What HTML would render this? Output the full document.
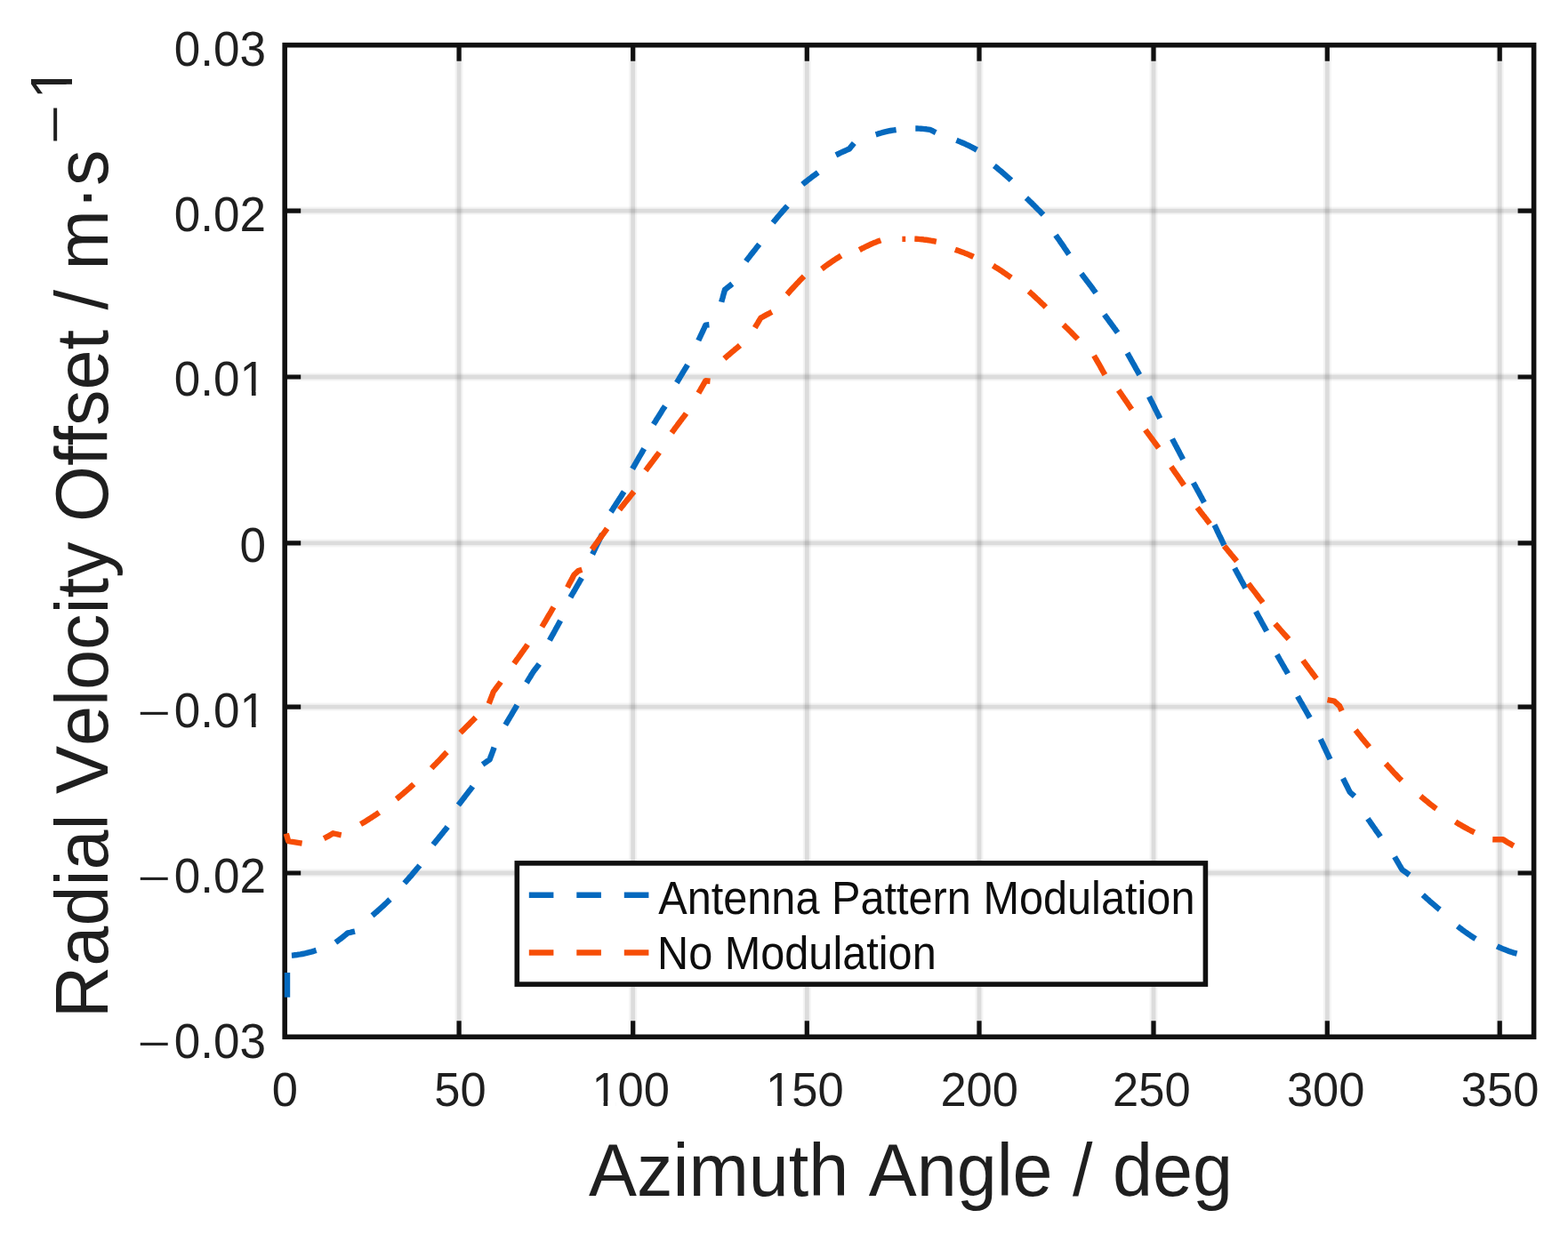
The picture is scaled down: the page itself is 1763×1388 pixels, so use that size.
<!DOCTYPE html>
<html lang="en"><head><meta charset="utf-8"><title>Radial Velocity Offset vs Azimuth Angle</title>
<style>html,body{margin:0;padding:0;background:#fff;overflow:hidden;}svg{display:block;}</style></head>
<body>
<svg width="1763" height="1388" viewBox="0 0 1763 1388">
<rect width="1763" height="1388" fill="#fff"/>
<g stroke="#262626" fill="none"><path d="M516.1,50.7V1166.3" stroke-opacity="0.05" stroke-width="9"/><path d="M516.1,50.7V1166.3" stroke-opacity="0.115" stroke-width="4.8"/><path d="M711.7,50.7V1166.3" stroke-opacity="0.05" stroke-width="9"/><path d="M711.7,50.7V1166.3" stroke-opacity="0.115" stroke-width="4.8"/><path d="M907.3,50.7V1166.3" stroke-opacity="0.05" stroke-width="9"/><path d="M907.3,50.7V1166.3" stroke-opacity="0.115" stroke-width="4.8"/><path d="M1101.0,50.7V1166.3" stroke-opacity="0.05" stroke-width="9"/><path d="M1101.0,50.7V1166.3" stroke-opacity="0.115" stroke-width="4.8"/><path d="M1297.0,50.7V1166.3" stroke-opacity="0.05" stroke-width="9"/><path d="M1297.0,50.7V1166.3" stroke-opacity="0.115" stroke-width="4.8"/><path d="M1492.3,50.7V1166.3" stroke-opacity="0.05" stroke-width="9"/><path d="M1492.3,50.7V1166.3" stroke-opacity="0.115" stroke-width="4.8"/><path d="M1686.2,50.7V1166.3" stroke-opacity="0.05" stroke-width="9"/><path d="M1686.2,50.7V1166.3" stroke-opacity="0.115" stroke-width="4.8"/><path d="M320.2,982.0H1724.6" stroke-opacity="0.05" stroke-width="9"/><path d="M320.2,982.0H1724.6" stroke-opacity="0.115" stroke-width="4.8"/><path d="M320.2,795.1H1724.6" stroke-opacity="0.05" stroke-width="9"/><path d="M320.2,795.1H1724.6" stroke-opacity="0.115" stroke-width="4.8"/><path d="M320.2,610.9H1724.6" stroke-opacity="0.05" stroke-width="9"/><path d="M320.2,610.9H1724.6" stroke-opacity="0.115" stroke-width="4.8"/><path d="M320.2,424.0H1724.6" stroke-opacity="0.05" stroke-width="9"/><path d="M320.2,424.0H1724.6" stroke-opacity="0.115" stroke-width="4.8"/><path d="M320.2,237.1H1724.6" stroke-opacity="0.05" stroke-width="9"/><path d="M320.2,237.1H1724.6" stroke-opacity="0.115" stroke-width="4.8"/></g>
<path d="M516.1,1166.3v-18M516.1,50.7v18M711.7,1166.3v-18M711.7,50.7v18M907.3,1166.3v-18M907.3,50.7v18M1101.0,1166.3v-18M1101.0,50.7v18M1297.0,1166.3v-18M1297.0,50.7v18M1492.3,1166.3v-18M1492.3,50.7v18M1686.2,1166.3v-18M1686.2,50.7v18M320.2,982.0h18M1724.6,982.0h-18M320.2,795.1h18M1724.6,795.1h-18M320.2,610.9h18M1724.6,610.9h-18M320.2,424.0h18M1724.6,424.0h-18M320.2,237.1h18M1724.6,237.1h-18" stroke="#101010" stroke-width="5.2" fill="none"/>
<rect x="320.2" y="50.7" width="1404.4" height="1115.6" stroke="#101010" stroke-width="5.6" fill="none"/>
<path d="M323.0,1121.8 L323.0,1094.0 M327.9,1074.6 329.9,1074.5 331.9,1074.2 333.9,1074.0 335.9,1073.7 337.9,1073.4 339.9,1073.0 341.9,1072.6 343.9,1072.2 345.9,1071.7 347.9,1071.2 349.8,1070.7 351.8,1070.1 353.7,1069.5 355.6,1068.9 M377.3,1060.0 379.0,1058.8 380.8,1057.5 382.6,1056.2 384.3,1054.9 386.0,1053.5 387.7,1052.1 389.4,1050.7 391.1,1049.3 393.7,1048.8 396.4,1048.2 399.0,1047.6 M418.5,1029.8 420.1,1028.5 421.7,1027.1 423.3,1025.8 424.8,1024.4 426.4,1023.0 427.9,1021.6 429.5,1020.2 431.0,1018.8 432.5,1017.4 434.0,1016.0 435.6,1014.5 437.0,1013.1 438.5,1011.7 M454.7,993.4 456.1,991.9 457.4,990.4 458.8,988.9 460.1,987.3 461.5,985.8 462.8,984.3 464.1,982.7 465.4,981.2 466.7,979.7 468.0,978.1 469.3,976.5 470.6,975.0 471.9,973.4 M487.0,950.0 488.4,948.3 489.8,946.7 491.1,945.0 492.5,943.4 493.8,941.7 495.2,940.1 496.5,938.4 497.9,936.7 499.2,935.1 500.6,933.4 501.9,931.7 503.2,930.0 M515.3,905.6 516.6,904.0 517.8,902.4 519.1,900.8 520.3,899.2 521.6,897.6 522.8,895.9 524.0,894.3 525.3,892.7 526.5,891.1 527.7,889.5 529.0,887.9 530.2,886.3 531.4,884.6 M542.6,859.9 544.6,858.5 546.6,857.1 548.6,855.7 550.6,854.3 551.3,852.4 552.0,850.4 552.8,848.5 553.5,846.5 554.2,844.6 554.9,842.6 555.6,840.7 M568.2,815.4 569.3,813.6 570.4,811.7 571.5,809.8 572.6,808.0 573.7,806.1 574.8,804.3 575.9,802.4 577.0,800.5 578.1,798.7 579.2,796.8 580.3,795.0 581.4,793.1 M592.0,767.9 593.1,766.2 594.2,764.4 595.3,762.6 596.4,760.9 597.4,759.1 598.5,757.4 599.6,755.6 600.9,753.8 602.3,752.1 603.6,750.3 605.0,748.6 606.3,746.8 M617.9,720.3 618.9,718.4 619.9,716.6 621.0,714.7 622.0,712.9 623.0,711.0 624.0,709.2 625.0,707.3 626.1,705.4 627.1,703.6 628.1,701.7 629.1,699.9 630.1,698.0 M641.4,671.8 642.5,670.0 643.5,668.2 644.6,666.4 645.6,664.6 646.7,662.8 647.7,661.0 648.8,659.1 649.8,657.3 650.9,655.5 651.9,653.7 653.0,651.9 654.0,650.1 M666.1,623.4 667.1,621.5 668.0,619.6 668.9,617.7 669.8,615.7 670.7,613.8 671.6,611.9 672.6,610.0 673.5,608.1 674.4,606.2 675.3,604.3 676.2,602.4 677.1,600.5 M686.9,575.8 688.1,574.1 689.2,572.3 690.3,570.5 691.5,568.8 692.6,567.0 693.7,565.3 694.9,563.5 696.0,561.8 697.1,560.0 698.3,558.3 699.4,556.5 700.5,554.7 701.7,553.0 M711.1,527.4 712.1,525.6 713.1,523.9 714.1,522.1 715.1,520.4 716.1,518.6 717.1,516.9 718.1,515.1 719.1,513.4 720.2,511.6 721.2,509.9 722.2,508.1 723.2,506.3 724.2,504.6 M734.8,477.3 735.9,475.6 737.0,473.9 738.0,472.2 739.1,470.4 740.2,468.7 741.3,467.0 742.4,465.3 743.4,463.6 744.5,461.8 745.6,460.1 746.7,458.4 747.8,456.7 M760.9,430.5 762.0,428.7 763.1,426.8 764.2,425.0 765.3,423.1 766.4,421.3 767.5,419.5 768.6,417.6 769.7,415.8 770.9,414.0 772.0,412.1 773.1,410.3 M785.3,383.0 786.2,381.0 787.1,379.1 788.0,377.2 788.9,375.2 789.8,373.3 790.7,371.4 791.6,369.5 792.5,367.5 793.4,365.6 797.4,365.2 M811.2,339.7 811.8,337.4 812.5,335.1 813.1,332.8 813.7,330.5 814.4,328.2 815.0,325.9 816.7,324.6 818.3,323.3 820.0,321.9 821.7,320.6 823.3,319.3 M838.8,293.8 840.1,292.0 841.5,290.3 842.8,288.6 844.1,286.8 845.5,285.1 846.9,283.4 848.2,281.7 849.6,280.0 850.9,278.2 852.3,276.5 853.7,274.8 M869.1,250.5 870.4,248.9 871.8,247.3 873.1,245.7 874.4,244.1 875.8,242.5 877.1,241.0 878.5,239.4 879.8,237.8 881.2,236.3 882.6,234.7 884.0,233.1 885.4,231.6 M902.3,207.4 904.0,206.0 905.8,204.6 907.5,203.3 909.2,201.9 911.0,200.6 912.7,199.2 914.5,197.9 916.3,196.6 918.0,195.3 919.8,194.0 M939.9,174.4 941.8,173.5 943.6,172.6 945.5,171.7 947.4,170.8 949.3,170.0 951.2,169.1 953.1,168.3 955.0,167.5 956.7,165.3 958.5,163.1 960.3,161.0 M984.7,151.4 986.7,150.8 988.7,150.1 990.8,149.5 992.9,148.9 994.9,148.4 997.0,147.9 999.1,147.4 1001.2,147.0 1003.4,146.6 1005.5,146.3 1007.6,146.0 M1029.3,144.5 1031.4,144.5 1033.4,144.6 1035.5,144.7 1037.5,144.9 1039.6,145.1 1041.6,145.3 1043.7,145.6 1045.7,145.9 1047.9,146.9 1050.0,148.0 1052.2,149.1 M1075.4,157.8 1077.4,158.6 1079.3,159.4 1081.3,160.2 1083.2,161.0 1085.2,161.9 1087.1,162.8 1089.0,163.7 1090.9,164.7 1092.8,165.6 1094.7,166.6 1096.6,167.6 1098.4,168.6 M1117.9,186.5 1119.6,187.8 1121.2,189.1 1122.8,190.4 1124.4,191.8 1126.0,193.1 1127.6,194.4 1129.2,195.8 1130.7,197.2 1132.3,198.6 1133.8,199.9 1135.4,201.3 1136.9,202.8 M1153.9,222.6 1155.4,224.0 1156.9,225.4 1158.4,226.9 1159.9,228.3 1161.3,229.8 1162.8,231.2 1164.3,232.7 1165.7,234.2 1167.2,235.7 1168.6,237.1 1170.1,238.6 1171.5,240.1 1173.0,241.6 M1187.0,264.5 1188.1,266.1 1189.3,267.8 1190.5,269.4 1191.6,271.1 1192.8,272.8 1193.9,274.4 1195.1,276.1 1196.2,277.8 1197.3,279.5 1198.5,281.2 1199.6,282.8 1200.7,284.5 1201.9,286.2 M1215.8,307.7 1217.1,309.4 1218.3,311.1 1219.6,312.7 1220.9,314.4 1222.1,316.1 1223.4,317.7 1224.7,319.4 1225.9,321.1 1227.2,322.7 1228.4,324.4 1229.6,326.1 1230.9,327.8 1232.1,329.5 M1241.7,353.8 1242.9,355.5 1244.2,357.2 1245.4,358.9 1246.7,360.6 1247.9,362.3 1249.2,364.0 1250.4,365.7 1251.7,367.4 1252.9,369.1 1254.2,370.8 1255.4,372.5 1256.6,374.2 M1267.5,397.1 1268.5,398.8 1269.5,400.6 1270.5,402.3 1271.4,404.1 1272.4,405.8 1273.4,407.6 1274.4,409.3 1275.4,411.1 1276.3,412.8 1277.3,414.6 1278.3,416.3 1279.3,418.1 1280.2,419.8 1281.2,421.6 M1292.0,446.1 1292.9,448.0 1293.9,449.9 1294.8,451.7 1295.8,453.6 1296.7,455.5 1297.7,457.4 1298.6,459.3 1299.5,461.2 1300.5,463.0 1301.4,464.9 1302.4,466.8 1303.3,468.7 1304.2,470.6 M1318.0,493.6 1318.9,495.4 1319.9,497.2 1320.8,498.9 1321.7,500.7 1322.7,502.5 1323.6,504.3 1324.5,506.0 1325.5,507.8 1326.4,509.6 1327.3,511.4 1328.3,513.1 1329.2,514.9 1330.1,516.7 M1341.8,542.9 1342.8,544.8 1343.8,546.6 1344.8,548.5 1345.8,550.3 1346.8,552.2 1347.9,554.0 1348.9,555.9 1349.9,557.8 1350.9,559.6 1351.9,561.5 1352.9,563.3 1353.9,565.2 M1365.4,590.4 1366.4,592.3 1367.3,594.2 1368.2,596.1 1369.1,598.1 1370.0,600.0 1370.9,601.9 1371.9,603.8 1372.8,605.7 1373.7,607.6 1374.6,609.5 1375.5,611.4 1376.5,613.3 M1388.2,639.1 1389.2,641.0 1390.2,642.8 1391.2,644.7 1392.3,646.6 1393.3,648.4 1394.3,650.3 1395.3,652.2 1396.3,654.0 1397.4,655.9 1398.4,657.8 1399.4,659.6 1400.4,661.5 M1412.0,687.7 1413.0,689.6 1414.0,691.4 1415.0,693.3 1416.0,695.2 1417.1,697.0 1418.1,698.9 1419.1,700.8 1420.1,702.6 1421.2,704.5 1422.2,706.4 1423.2,708.2 1424.2,710.1 M1435.8,736.4 1436.8,738.2 1437.8,739.9 1438.8,741.7 1439.8,743.5 1440.9,745.3 1441.9,747.1 1442.9,748.8 1443.9,750.6 1444.9,752.4 1446.0,754.2 1447.0,755.9 1448.0,757.7 M1459.0,783.2 1460.0,785.1 1461.1,786.9 1462.1,788.8 1463.2,790.6 1464.2,792.5 1465.3,794.3 1466.3,796.2 1467.4,798.0 1468.5,799.9 1469.5,801.7 1470.6,803.6 1471.6,805.4 1472.7,807.3 M1484.8,831.4 1485.7,833.3 1486.6,835.2 1487.5,837.1 1488.3,839.0 1489.2,840.8 1490.1,842.7 1491.0,844.6 1491.9,846.5 1492.8,848.4 1493.7,850.2 1494.6,852.1 1495.5,854.0 M1510.0,875.5 1511.0,877.5 1512.0,879.4 1512.9,881.3 1513.9,883.3 1514.9,885.2 1515.8,887.1 1516.8,889.1 1517.8,891.0 1519.5,892.6 1521.3,894.2 1523.0,895.7 M1537.9,920.9 1539.1,922.6 1540.3,924.2 1541.4,925.9 1542.6,927.6 1543.8,929.3 1545.0,931.0 1546.2,932.7 1547.3,934.4 1548.5,936.0 1549.7,937.7 1550.9,939.4 1552.1,941.1 M1568.1,963.8 1569.1,965.6 1570.2,967.4 1571.2,969.2 1572.3,971.0 1573.3,972.8 1574.4,974.6 1575.4,976.4 1576.5,978.2 1578.5,979.7 1580.6,981.2 1582.6,982.6 1584.7,984.1 M1599.8,1006.6 1601.3,1008.0 1602.9,1009.4 1604.4,1010.8 1606.0,1012.2 1607.5,1013.6 1609.1,1015.0 1610.7,1016.3 1612.3,1017.7 1613.9,1019.1 1615.5,1020.4 1617.1,1021.8 1618.8,1023.1 M1638.9,1041.8 1640.5,1043.1 1642.2,1044.3 1643.8,1045.6 1645.5,1046.8 1647.1,1048.0 1648.8,1049.2 1650.5,1050.4 1652.2,1051.5 1653.9,1052.7 1655.6,1053.8 1657.4,1054.9 1659.1,1056.0 M1683.2,1064.3 1685.0,1065.2 1686.9,1066.0 1688.7,1066.8 1690.5,1067.6 1692.4,1068.3 1694.3,1069.0 1696.1,1069.7 1698.0,1070.4 1699.9,1071.0 1701.8,1071.6 1703.7,1072.1 1705.6,1072.6" stroke="#0569be" stroke-width="6.4" fill="none" stroke-linejoin="round"/>
<path d="M321.8,937.6 L324.2,946.2 L339.6,948.6 M364.2,943.1 366.3,942.0 368.4,940.9 370.4,939.7 372.5,938.5 374.5,937.3 377.6,938.0 380.6,938.7 383.7,939.3 M405.5,927.0 407.3,926.0 409.1,924.9 410.8,923.9 412.6,922.8 414.3,921.7 416.1,920.6 417.8,919.5 419.5,918.4 421.2,917.3 423.0,916.1 424.7,914.9 426.3,913.8 M445.8,898.7 447.5,897.4 449.1,896.0 450.8,894.6 452.4,893.3 454.0,891.9 455.6,890.5 457.3,889.1 458.9,887.7 460.5,886.3 462.0,884.9 463.6,883.5 465.2,882.0 M485.2,864.1 486.6,862.6 488.1,861.1 489.6,859.6 491.0,858.1 492.5,856.6 493.9,855.1 495.3,853.6 496.8,852.0 498.2,850.5 499.6,849.0 501.0,847.4 502.5,845.9 M517.6,824.2 519.0,822.8 520.5,821.4 521.9,820.0 523.4,818.5 524.8,817.1 526.3,815.7 527.7,814.2 529.1,812.8 530.6,811.3 532.0,809.9 533.4,808.4 534.8,807.0 M549.7,791.5 550.6,789.3 551.4,787.0 552.3,784.7 553.2,782.5 554.0,780.2 554.9,777.9 556.3,776.1 557.6,774.3 559.0,772.5 560.3,770.7 561.7,768.9 563.0,767.0 M578.0,746.4 579.2,744.7 580.3,743.1 581.5,741.4 582.7,739.8 583.9,738.1 585.1,736.5 586.2,734.9 587.4,733.2 588.6,731.6 589.7,729.9 590.9,728.3 592.1,726.6 593.2,725.0 M609.3,705.2 610.3,703.5 611.3,701.8 612.4,700.1 613.4,698.3 614.4,696.6 615.4,694.9 616.4,693.2 617.4,691.4 618.5,689.7 619.5,688.0 620.5,686.2 621.5,684.5 622.5,682.8 M638.0,660.7 639.1,658.7 640.1,656.6 641.2,654.6 642.3,652.6 643.4,650.6 644.4,648.5 645.5,646.5 647.1,645.0 648.6,643.6 650.2,642.1 654.4,640.8 M665.5,618.1 666.7,616.4 667.9,614.7 669.1,613.0 670.4,611.3 671.6,609.6 672.8,607.9 674.0,606.2 675.3,604.6 676.5,602.9 677.7,601.2 679.0,599.5 680.2,597.8 681.4,596.1 682.6,594.4 M696.5,573.3 697.9,571.6 699.2,569.9 700.6,568.2 701.9,566.5 703.3,564.8 704.6,563.1 706.0,561.4 707.4,559.7 708.7,558.0 710.1,556.3 711.4,554.6 712.8,552.9 M725.9,529.3 727.2,527.6 728.4,525.9 729.7,524.2 731.0,522.5 732.3,520.8 733.6,519.1 734.9,517.4 736.1,515.7 737.4,514.0 738.7,512.3 740.0,510.6 741.3,508.9 M755.3,486.8 756.5,485.1 757.8,483.4 759.0,481.7 760.2,480.1 761.5,478.4 762.7,476.7 764.0,475.0 765.2,473.4 766.5,471.7 767.7,470.0 769.0,468.4 770.3,466.7 771.5,465.0 M785.4,442.1 786.5,440.1 787.7,438.1 788.8,436.1 790.0,434.1 791.1,432.2 792.2,430.2 793.4,428.2 798.5,428.7 M814.4,403.4 816.0,402.0 817.6,400.6 819.2,399.3 820.7,397.9 822.3,396.6 823.9,395.2 825.5,393.9 827.1,392.5 828.7,391.2 830.4,389.9 832.0,388.5 M848.8,368.6 849.9,366.7 851.0,364.9 852.1,363.1 853.2,361.2 854.3,359.4 855.4,357.6 857.5,356.5 859.5,355.3 861.6,354.2 863.7,353.1 865.8,352.0 867.9,350.9 M884.9,331.2 886.4,329.6 887.8,327.9 889.2,326.3 890.7,324.7 892.1,323.2 893.6,321.6 895.1,320.0 896.5,318.4 898.0,316.9 899.5,315.3 901.0,313.8 902.5,312.3 904.0,310.8 M923.9,302.5 925.6,301.3 927.2,300.0 928.8,298.8 930.5,297.6 932.1,296.5 933.8,295.3 935.5,294.1 937.2,293.0 938.9,291.9 940.6,290.8 942.3,289.7 944.0,288.6 945.7,287.5 M966.3,281.1 968.1,280.1 969.9,279.2 971.8,278.3 973.6,277.3 975.4,276.5 977.3,275.6 979.1,274.7 981.0,273.9 982.8,273.1 984.7,272.4 986.6,271.6 988.5,270.9 990.3,270.2 M1014.4,268.9 1018.2,268.9 M1028.3,268.6 1030.4,268.7 1032.4,268.9 1034.5,269.1 1036.5,269.2 1038.6,269.5 1040.6,269.7 1042.7,270.0 1044.7,270.3 1046.7,270.7 1048.8,271.0 1050.8,271.4 1052.8,271.8 M1073.9,280.7 1075.8,281.4 1077.7,282.0 1079.6,282.7 1081.5,283.4 1083.4,284.1 1085.3,284.9 1087.2,285.6 1089.0,286.4 1090.9,287.2 1092.7,288.0 1094.6,288.9 M1116.6,298.8 1118.3,299.9 1120.0,300.9 1121.8,302.0 1123.5,303.1 1125.2,304.2 1126.9,305.4 1128.5,306.5 1130.2,307.6 1131.9,308.8 1133.6,310.0 1135.2,311.1 1136.9,312.3 M1156.8,327.7 1158.3,329.0 1159.8,330.4 1161.3,331.7 1162.8,333.1 1164.2,334.4 1165.7,335.8 1167.2,337.1 1168.6,338.5 1170.1,339.9 1171.5,341.3 1173.0,342.6 1174.4,344.0 1175.8,345.4 M1195.7,365.3 1197.2,366.7 1198.7,368.2 1200.1,369.6 1201.6,371.1 1203.1,372.5 1204.6,374.0 1206.0,375.5 1207.5,377.0 1208.9,378.4 1210.4,379.9 1211.8,381.4 M1230.1,400.0 1231.1,401.8 1232.2,403.6 1233.2,405.4 1234.2,407.2 1235.2,408.9 1236.3,410.7 1237.3,412.5 1238.3,414.4 1239.3,416.2 1240.3,418.0 1241.3,419.8 1242.3,421.6 M1257.6,438.9 1258.7,440.5 1259.9,442.2 1261.0,443.8 1262.2,445.5 1263.3,447.2 1264.5,448.8 1265.6,450.5 1266.8,452.2 1267.9,453.8 1269.0,455.5 1270.2,457.2 1271.3,458.9 1272.5,460.5 M1287.8,483.5 1289.0,485.2 1290.3,486.9 1291.5,488.6 1292.8,490.3 1294.0,492.0 1295.3,493.7 1296.5,495.4 1297.8,497.1 1299.0,498.8 1300.3,500.5 1301.5,502.2 1302.7,503.9 M1316.8,524.9 1318.0,526.6 1319.2,528.3 1320.4,530.1 1321.6,531.8 1322.9,533.6 1324.1,535.3 1325.3,537.1 1326.5,538.8 1327.7,540.6 1328.9,542.3 1330.1,544.1 1331.3,545.8 M1346.2,570.9 1347.5,572.6 1348.8,574.2 1350.0,575.9 1351.3,577.5 1352.6,579.2 1353.9,580.8 1355.2,582.5 1356.5,584.1 1357.7,585.8 1359.0,587.4 1360.3,589.1 M1376.4,614.1 1377.7,615.7 1379.0,617.2 1380.3,618.8 1381.6,620.4 1382.9,621.9 1384.1,623.5 1385.4,625.0 1386.7,626.6 1388.0,628.2 1389.3,629.7 1390.6,631.3 M1403.5,656.3 1404.7,658.0 1406.0,659.6 1407.2,661.3 1408.5,662.9 1409.8,664.6 1411.0,666.2 1412.3,667.9 1413.5,669.5 1414.8,671.2 1416.0,672.8 1417.3,674.5 1418.6,676.1 1419.8,677.8 M1433.7,701.7 1435.1,703.3 1436.5,704.8 1437.9,706.4 1439.3,708.0 1440.6,709.5 1442.0,711.1 1443.4,712.7 1444.8,714.2 1446.2,715.8 1447.6,717.3 1449.0,718.9 M1465.1,742.8 1466.3,744.6 1467.6,746.3 1468.8,748.0 1470.1,749.7 1471.3,751.4 1472.6,753.1 1473.9,754.8 1475.1,756.5 1476.4,758.2 1477.7,759.9 1478.9,761.6 1480.2,763.3 M1492.5,787.2 1496.4,787.9 1500.2,788.6 1501.7,790.0 1503.2,791.4 1504.7,792.8 1506.2,794.2 1507.4,796.9 1508.7,799.7 M1524.1,821.2 1525.4,822.8 1526.6,824.4 1527.9,826.0 1529.2,827.6 1530.4,829.2 1531.7,830.8 1533.0,832.3 1534.3,833.9 1535.6,835.5 1536.9,837.1 1538.2,838.6 1539.5,840.2 M1558.1,859.0 1559.5,860.5 1560.8,862.0 1562.2,863.5 1563.5,864.9 1564.9,866.4 1566.2,867.9 1567.6,869.4 1569.0,870.8 1570.4,872.3 1571.7,873.7 1573.1,875.2 1574.5,876.6 1575.9,878.0 M1597.3,895.5 1598.9,896.9 1600.5,898.2 1602.0,899.5 1603.6,900.8 1605.2,902.1 1606.8,903.4 1608.4,904.7 1610.1,906.0 1611.7,907.2 1613.3,908.5 1615.0,909.7 M1636.5,924.4 1638.2,925.5 1639.9,926.6 1641.7,927.6 1643.4,928.6 1645.2,929.6 1647.0,930.6 1648.8,931.6 1650.5,932.6 1652.3,933.5 1654.1,934.5 1656.0,935.4 1657.8,936.3 M1678.2,944.2 1680.6,944.3 1682.9,944.3 1685.3,944.3 1687.6,944.3 1690.0,944.2 1692.0,945.5 1693.9,946.7 1695.9,947.9 1697.9,949.1 1699.9,950.3 1701.9,951.4" stroke="#f64d06" stroke-width="6.4" fill="none" stroke-linejoin="round"/>
<g font-family="'Liberation Sans', sans-serif" fill="#1f1f1f" style="font-kerning:none"><text x="195.75" y="1189.50" font-size="54.8" textLength="103.35" lengthAdjust="spacingAndGlyphs">0.03</text><text x="154.85" y="1189.03" font-size="44.0" textLength="37.26" lengthAdjust="spacingAndGlyphs">−</text><text x="195.75" y="1003.50" font-size="54.8" textLength="103.35" lengthAdjust="spacingAndGlyphs">0.02</text><text x="154.85" y="1003.03" font-size="44.0" textLength="37.26" lengthAdjust="spacingAndGlyphs">−</text><text x="195.75" y="817.50" font-size="54.8" textLength="103.35" lengthAdjust="spacingAndGlyphs">0.01</text><text x="154.85" y="817.03" font-size="44.0" textLength="37.26" lengthAdjust="spacingAndGlyphs">−</text><text x="269.57" y="631.60" font-size="54.8" textLength="29.53" lengthAdjust="spacingAndGlyphs">0</text><text x="195.75" y="444.70" font-size="54.8" textLength="103.35" lengthAdjust="spacingAndGlyphs">0.01</text><text x="195.75" y="259.60" font-size="54.8" textLength="103.35" lengthAdjust="spacingAndGlyphs">0.02</text><text x="195.75" y="73.80" font-size="54.8" textLength="103.35" lengthAdjust="spacingAndGlyphs">0.03</text><text x="305.66" y="1243.50" font-size="54.5" textLength="29.19" lengthAdjust="spacingAndGlyphs">0</text><text x="488.21" y="1243.50" font-size="54.5" textLength="58.38" lengthAdjust="spacingAndGlyphs">50</text><text x="665.42" y="1243.50" font-size="54.5" textLength="87.57" lengthAdjust="spacingAndGlyphs">100</text><text x="861.02" y="1243.50" font-size="54.5" textLength="87.57" lengthAdjust="spacingAndGlyphs">150</text><text x="1057.42" y="1243.50" font-size="54.5" textLength="87.57" lengthAdjust="spacingAndGlyphs">200</text><text x="1251.12" y="1243.50" font-size="54.5" textLength="87.57" lengthAdjust="spacingAndGlyphs">250</text><text x="1446.92" y="1243.50" font-size="54.5" textLength="87.57" lengthAdjust="spacingAndGlyphs">300</text><text x="1642.82" y="1243.50" font-size="54.5" textLength="87.57" lengthAdjust="spacingAndGlyphs">350</text></g>
<g fill="#fff"><rect x="272.80" y="812.41" width="10.12" height="6.09"/><rect x="287.61" y="812.41" width="9.68" height="6.09"/><rect x="272.80" y="439.61" width="10.12" height="6.09"/><rect x="287.61" y="439.61" width="9.68" height="6.09"/><rect x="668.61" y="1238.43" width="10.01" height="6.07"/><rect x="683.25" y="1238.43" width="9.58" height="6.07"/><rect x="864.21" y="1238.43" width="10.01" height="6.07"/><rect x="878.85" y="1238.43" width="9.58" height="6.07"/></g>
<g font-family="'Liberation Sans', sans-serif" fill="#1f1f1f" style="font-kerning:none"><text x="662.04" y="1344.50" font-size="83" textLength="723.97" lengthAdjust="spacingAndGlyphs">Azimuth Angle / deg</text></g>
<g transform="translate(121.3,1145.0) rotate(-90)" font-family="'Liberation Sans', sans-serif" fill="#1f1f1f" style="font-kerning:none"><text x="-0.14" y="0.00" font-size="84.0" textLength="976.57" lengthAdjust="spacingAndGlyphs">Radial Velocity Offset / m·s</text><text x="982.74" y="-40.38" font-size="56.0" textLength="44.47" lengthAdjust="spacingAndGlyphs">−</text><text x="1033.60" y="-40.80" font-size="66.0">1</text><g fill="#fff"><rect x="1037.82" y="-46.73" width="12.38" height="6.93"/><rect x="1056.03" y="-46.73" width="11.84" height="6.93"/></g></g>
<rect x="581.3" y="970.9" width="774.1" height="136.2" fill="#fff" stroke="#101010" stroke-width="5.6"/>
<path d="M594.8,1006.7H729.6" stroke="#0569be" stroke-width="6.4" stroke-dasharray="27.6 25.9"/>
<path d="M594.8,1071.5H729.6" stroke="#f64d06" stroke-width="6.4" stroke-dasharray="27.6 25.9"/>
<g font-family="'Liberation Sans', sans-serif" fill="#0d0d0d" style="font-kerning:none"><text x="740.20" y="1028.00" font-size="51" textLength="603.26" lengthAdjust="spacingAndGlyphs">Antenna Pattern Modulation</text><text x="739.01" y="1090.00" font-size="51" textLength="313.75" lengthAdjust="spacingAndGlyphs">No Modulation</text></g>
</svg>
</body></html>
